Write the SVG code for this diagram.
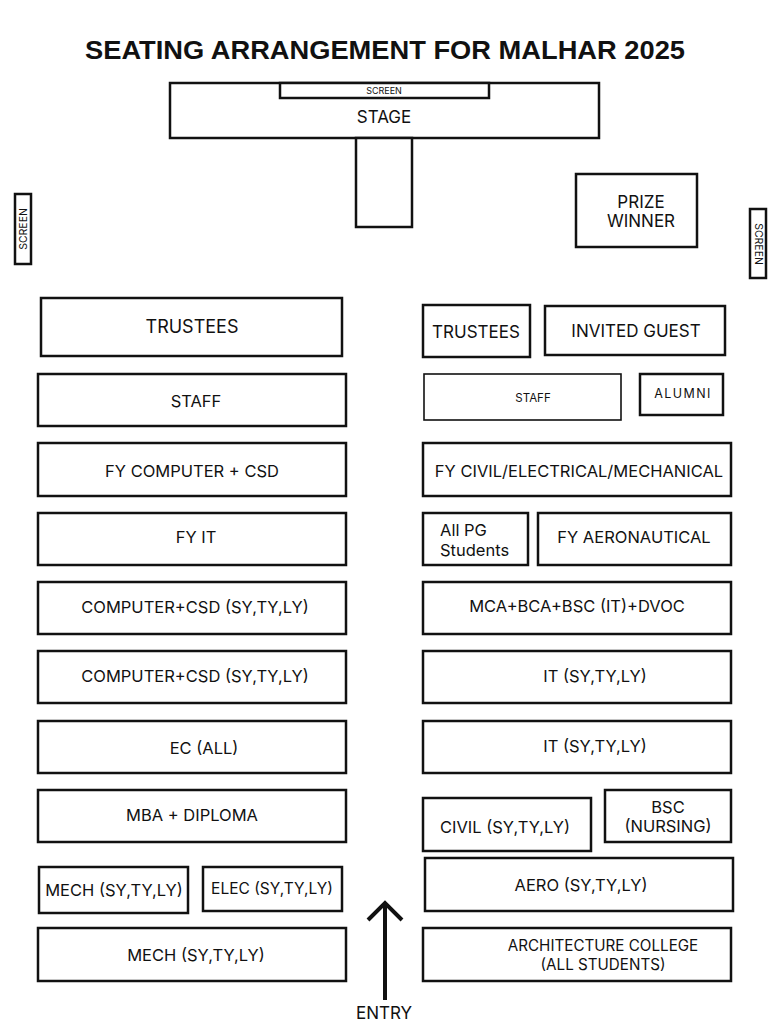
<svg xmlns="http://www.w3.org/2000/svg" width="768" height="1024" viewBox="0 0 768 1024">
<style>
.b{fill:#fff;stroke:#111;stroke-width:2.5}
.thin{fill:#fff;stroke:#111;stroke-width:1.6}
text{font-family:"Inter","Liberation Sans",sans-serif;fill:#111;text-anchor:middle}
.l{font-size:16.5px}
</style>
<rect width="768" height="1024" fill="#fff"/>
<text x="385" y="59" style="font-family:'Liberation Sans',Arial,sans-serif;font-weight:bold;font-size:25px" textLength="600" lengthAdjust="spacingAndGlyphs">SEATING ARRANGEMENT FOR MALHAR 2025</text>

<g id="stage">
<rect class="b" x="170" y="83" width="429" height="55"/>
<text x="384" y="123" style="font-size:17px">STAGE</text>
</g>
<g id="screen-top">
<rect class="b" x="280" y="83" width="209" height="15"/>
<text x="384" y="94" style="font-size:9px">SCREEN</text>
</g>
<g id="ramp"><rect class="b" x="356" y="138" width="56" height="89"/></g>
<g id="screen-left">
<rect class="b" x="15" y="194" width="16" height="70"/>
<text transform="translate(27,229) rotate(-90)" style="font-size:10.5px">SCREEN</text>
</g>
<g id="screen-right">
<rect class="b" x="750" y="209" width="16" height="69"/>
<text transform="translate(754.5,244) rotate(90)" style="font-size:10.5px">SCREEN</text>
</g>
<g id="prize">
<rect class="b" x="576" y="174" width="121" height="73"/>
<text x="641" y="208" style="font-size:17px">PRIZE</text>
<text x="641" y="227" style="font-size:17px">WINNER</text>
</g>

<g id="l-trustees"><rect class="b" x="41" y="298" width="301" height="58"/><text x="192" y="333" style="font-size:18px">TRUSTEES</text></g>
<g id="l-staff"><rect class="b" x="38" y="374" width="308" height="52"/><text x="196" y="407" class="l">STAFF</text></g>
<g id="l-fycomp"><rect class="b" x="38" y="443" width="308" height="53"/><text x="192" y="477" class="l">FY COMPUTER + CSD</text></g>
<g id="l-fyit"><rect class="b" x="38" y="513" width="308" height="52"/><text x="196" y="543" class="l">FY IT</text></g>
<g id="l-comp1"><rect class="b" x="38" y="582" width="308" height="52"/><text x="195" y="613" class="l">COMPUTER+CSD (SY,TY,LY)</text></g>
<g id="l-comp2"><rect class="b" x="38" y="651" width="308" height="52"/><text x="195" y="682" class="l">COMPUTER+CSD (SY,TY,LY)</text></g>
<g id="l-ec"><rect class="b" x="38" y="721" width="308" height="52"/><text x="204" y="754" class="l">EC (ALL)</text></g>
<g id="l-mba"><rect class="b" x="38" y="790" width="308" height="52"/><text x="192" y="821" class="l">MBA + DIPLOMA</text></g>
<g id="l-mech1"><rect class="b" x="39" y="867" width="149" height="46"/><text x="114" y="896" style="font-size:16.5px">MECH (SY,TY,LY)</text></g>
<g id="l-elec"><rect class="b" x="203" y="867" width="139" height="44"/><text x="272" y="894" style="font-size:15.5px">ELEC (SY,TY,LY)</text></g>
<g id="l-mech2"><rect class="b" x="38" y="928" width="308" height="53"/><text x="196" y="961" class="l">MECH (SY,TY,LY)</text></g>

<g id="r-trustees"><rect class="b" x="423" y="305" width="107" height="52"/><text x="476" y="338" style="font-size:17px">TRUSTEES</text></g>
<g id="r-guest"><rect class="b" x="545" y="306" width="180" height="49"/><text x="636" y="337" style="font-size:17px">INVITED GUEST</text></g>
<g id="r-staff"><rect class="thin" x="424" y="374" width="197" height="46"/><text x="533" y="402" style="font-size:11.5px">STAFF</text></g>
<g id="r-alumni"><rect class="b" x="640" y="374" width="83" height="41"/><text x="683" y="398" style="font-size:12.5px;letter-spacing:1.4px">ALUMNI</text></g>
<g id="r-fycivil"><rect class="b" x="423" y="443" width="308" height="53"/><text x="579" y="477" class="l">FY CIVIL/ELECTRICAL/MECHANICAL</text></g>
<g id="r-pg"><rect class="b" x="423" y="513" width="105" height="52"/><text x="440" y="536" class="l" style="text-anchor:start">All PG</text><text x="440" y="556" class="l" style="text-anchor:start">Students</text></g>
<g id="r-aero-fy"><rect class="b" x="538" y="513" width="193" height="52"/><text x="634" y="543" class="l">FY AERONAUTICAL</text></g>
<g id="r-mca"><rect class="b" x="423" y="582" width="308" height="52"/><text x="577" y="612" class="l">MCA+BCA+BSC (IT)+DVOC</text></g>
<g id="r-it1"><rect class="b" x="423" y="651" width="308" height="52"/><text x="595" y="682" class="l">IT (SY,TY,LY)</text></g>
<g id="r-it2"><rect class="b" x="423" y="721" width="308" height="52"/><text x="595" y="752" class="l">IT (SY,TY,LY)</text></g>
<g id="r-civil"><rect class="b" x="423" y="798" width="168" height="53"/><text x="505" y="833" class="l">CIVIL (SY,TY,LY)</text></g>
<g id="r-bsc"><rect class="b" x="605" y="790" width="126" height="52"/><text x="668" y="813" class="l">BSC</text><text x="668" y="832" class="l">(NURSING)</text></g>
<g id="r-aero"><rect class="b" x="425" y="858" width="308" height="53"/><text x="581" y="891" class="l">AERO (SY,TY,LY)</text></g>
<g id="r-arch"><rect class="b" x="423" y="928" width="308" height="53"/><text x="603" y="951" style="font-size:15.2px">ARCHITECTURE COLLEGE</text><text x="603" y="970" style="font-size:15.2px">(ALL STUDENTS)</text></g>

<g id="connectors">
<line x1="385" y1="1000" x2="385" y2="904" stroke="#111" stroke-width="4"/>
<polyline points="368,920 385,903 402,920" fill="none" stroke="#111" stroke-width="4"/>
</g>
<g id="entry"><text x="384" y="1019" style="font-size:17px">ENTRY</text></g>
</svg>
